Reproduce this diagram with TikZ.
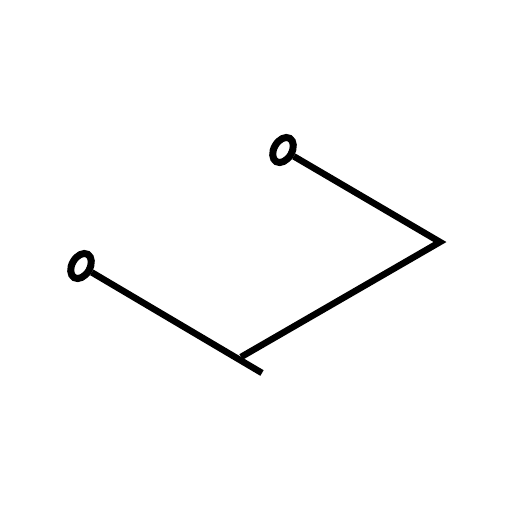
\documentclass[tikz,border=0pt]{standalone}
\usepackage{tikz}
\usetikzlibrary{shapes.geometric}

\tikzset{
    ring/.style={draw, ellipse, line width=0.14cm, minimum width=0.36cm, minimum height=0.54cm, inner sep=0pt, rotate=-30},
    rod/.style={line width=0.13cm, line join=miter}
}

\begin{document}
\begin{tikzpicture}[x=0.02cm, y=-0.02cm]
            \useasboundingbox (0,0) rectangle (512,512);
            \node[ring] (ringtop) at (283,150) {};
            \node[ring] (ringleft) at (81,266) {};
            \coordinate (bend) at (440,242);
            \coordinate (foot) at (241,357);
            \coordinate (tail) at (262,373);
            \draw[rod] (ringtop) -- (bend) -- (foot);
            \draw[rod] (ringleft) -- (tail);
        \end{tikzpicture}
\end{document}
